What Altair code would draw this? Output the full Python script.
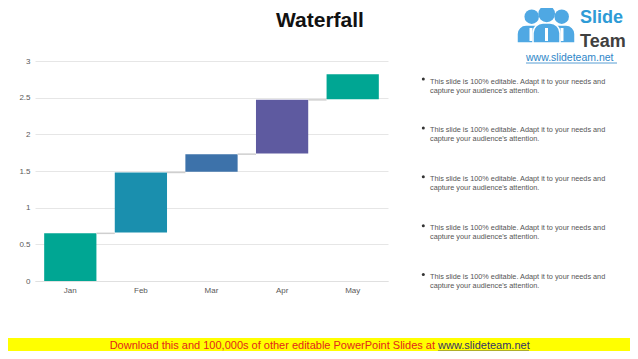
import altair as alt
import pandas as pd

# ---- data ----
months = ["Jan", "Feb", "Mar", "Apr", "May"]
starts = [0.0, 0.66, 1.49, 1.74, 2.48]
ends = [0.65, 1.48, 1.73, 2.47, 2.82]
bar_colors = ["#00A693", "#1A8FAE", "#3D72AA", "#5E5AA0", "#00A693"]
y_ticks = [0, 0.5, 1, 1.5, 2, 2.5, 3]
title_text = "Waterfall"
bullet_line_1 = "This slide is 100% editable. Adapt it to your needs and"
bullet_line_2 = "capture your audience's attention."
n_bullets = 5
footer_text = "Download this and 100,000s of other editable PowerPoint Slides at"
footer_link = "www.slideteam.net"
logo_word_1 = "Slide"
logo_word_2 = "Team"
logo_url = "www.slideteam.net"

df = pd.DataFrame({"month": months, "start": starts, "end": ends})
conn = pd.DataFrame({"month": months[:-1], "next": months[1:], "level": ends[:-1]})

FONT = "Liberation Sans"
W, H = 353, 220
xscale = alt.Scale(domain=months, paddingInner=0.26, paddingOuter=0.13)
yscale = alt.Scale(domain=[0, 3], nice=False)

x_axis = alt.Axis(labelAngle=0, labelFontSize=8, labelColor="#595959",
                  labelFont=FONT, ticks=False, domain=True,
                  domainColor="#e0e0e0", labelPadding=5, grid=False)
y_axis = alt.Axis(values=y_ticks, format="~g", labelOverlap=False,
                  labelFontSize=8, labelColor="#595959",
                  labelFont=FONT, ticks=False, domain=False,
                  gridColor="#e6e6e6", labelPadding=5)

bars = alt.Chart(df).mark_bar().encode(
    x=alt.X("month:N", scale=xscale, sort=months, title=None, axis=x_axis),
    y=alt.Y("start:Q", scale=yscale, title=None, axis=y_axis),
    y2="end:Q",
    color=alt.Color("month:N", scale=alt.Scale(domain=months, range=bar_colors),
                    legend=None),
)

connectors = alt.Chart(conn).mark_rule(color="#cfcfcf", strokeWidth=1.5).encode(
    x=alt.X("month:N", scale=xscale, sort=months, bandPosition=1, title=None,
            axis=x_axis),
    x2=alt.X2("next:N", bandPosition=0),
    y=alt.Y("level:Q", scale=yscale, title=None, axis=y_axis),
)

one = pd.DataFrame({"k": [0]})


def txt(s, x, y, size, color, weight="normal", align="left", baseline="middle"):
    return alt.Chart(pd.DataFrame({"t": [s]})).mark_text(
        font=FONT, fontSize=size, color=color, fontWeight=weight,
        align=align, baseline=baseline,
    ).encode(x=alt.value(x), y=alt.value(y), text="t:N")


def rect(x, x2, y, y2, color, **kw):
    return alt.Chart(one).mark_rect(color=color, **kw).encode(
        x=alt.value(x), x2=alt.value(x2), y=alt.value(y), y2=alt.value(y2))


def rule(x, x2, y, color, w=1):
    return alt.Chart(one).mark_rule(color=color, strokeWidth=w).encode(
        x=alt.value(x), x2=alt.value(x2), y=alt.value(y))


def dot(x, y, size, color):
    return alt.Chart(one).mark_circle(color=color, size=size, opacity=1).encode(
        x=alt.value(x), y=alt.value(y))


layers = [bars, connectors]

# title
layers.append(txt(title_text, 285, -34, 21, "#111111", weight="bold",
                  align="center", baseline="alphabetic"))

# logo
blue = "#4FA8E3"
layers.append(rect(482, 510, -36, -18, blue, cornerRadiusTopLeft=10,
                   cornerRadiusTopRight=10, stroke="white", strokeWidth=1.5))
layers.append(rect(513, 540, -36, -18, blue, cornerRadiusTopLeft=10,
                   cornerRadiusTopRight=10, stroke="white", strokeWidth=1.5))
layers.append(rect(498, 525, -38, -18, blue, cornerRadiusTopLeft=10,
                   cornerRadiusTopRight=10, stroke="white", strokeWidth=1.5))
for cx in [496, 511.5, 527]:
    layers.append(rect(cx - 1.5, cx + 1.5, -33, -20, "white"))
layers.append(dot(496.7, -44.3, 210, blue))
layers.append(dot(526.7, -44.3, 210, blue))
layers.append(dot(511.7, -47.2, 280, blue))
layers.append(txt(logo_word_1, 545, -38.5, 18, "#2E9BD6", weight="bold",
                  baseline="alphabetic"))
layers.append(txt(logo_word_2, 545, -14.5, 18, "#404040", weight="bold",
                  baseline="alphabetic"))
layers.append(txt(logo_url, 491, -3, 10.5, "#2E86C8"))
layers.append(rule(491, 582, 2, "#2E86C8", 0.8))

# bullets
for i in range(n_bullets):
    yb = 18 + 48.9 * i
    layers.append(dot(388.3, yb, 9, "#333333"))
    layers.append(txt(bullet_line_1, 395, yb + 2.5, 7.3, "#555555"))
    layers.append(txt(bullet_line_2, 395, yb + 11.5, 7.3, "#555555"))

# footer
layers.append(rect(-27, 595, 277, 290, "#FFFF00"))
layers.append(txt(footer_text, 400, 284.5, 11, "#E3261B", align="right"))
layers.append(txt(footer_link, 403, 284.5, 11, "#333366"))
layers.append(rule(403, 494, 290, "#333366", 0.8))

chart = alt.layer(*layers).properties(
    width=W, height=H,
    autosize=alt.AutoSizeParams(type="none"),
    padding={"left": 27, "top": 53, "right": 242, "bottom": 70},
    background="white",
).configure_view(stroke=None)

chart.save("out.html", embed_options={"renderer": "svg", "actions": False})
